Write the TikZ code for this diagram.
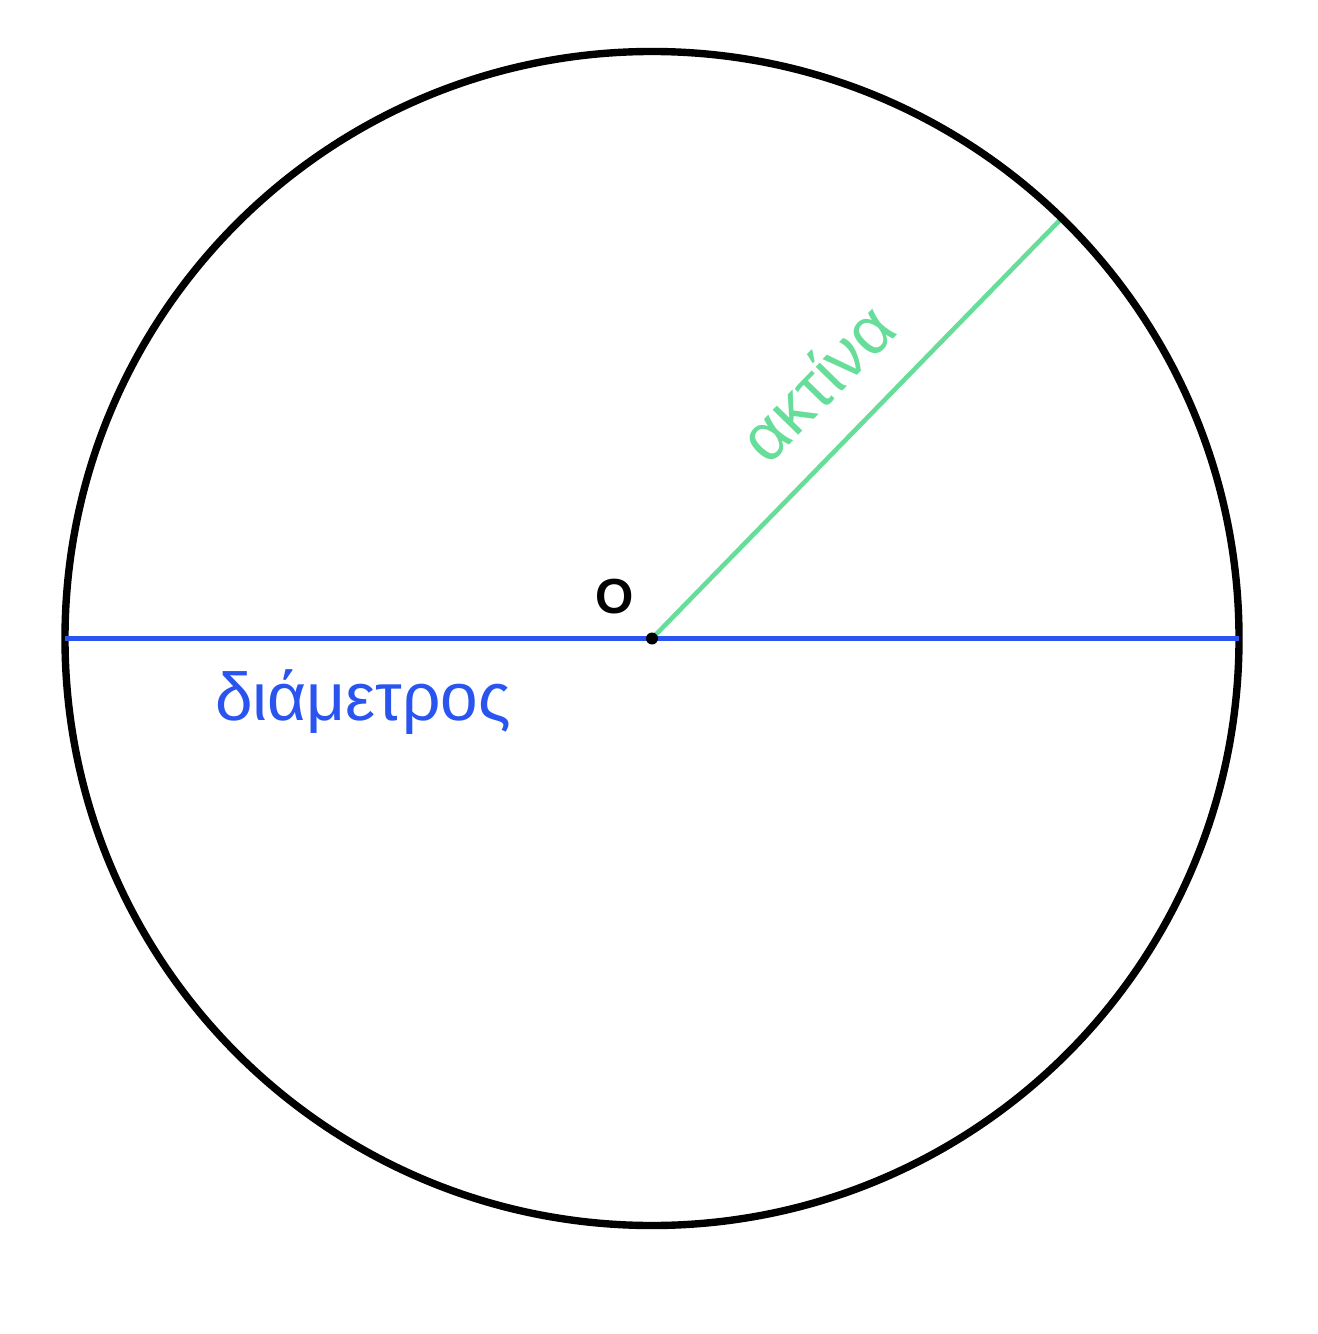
\documentclass[tikz,border=0pt]{standalone}
\usepackage{fontspec}
\setmainfont{Liberation Sans}
\usepackage{tikz}
\usetikzlibrary{positioning}
\definecolor{diamblue}{RGB}{41,84,240}
\definecolor{radgreen}{RGB}{102,221,153}
\tikzset{rim/.style={draw=black,line width=2.1pt}}
\tikzset{diam/.style={draw=diamblue,line width=1.5pt}}
\tikzset{rad/.style={draw=radgreen,line width=1.3pt}}
\tikzset{lbl/.style={font=\fontsize{19.2}{22}\selectfont}}

\begin{document}
\begin{tikzpicture}[x=0.01cm,y=-0.01cm]
                    \useasboundingbox (0,0) rectangle (1317,1334);
                    \coordinate (o) at (652,638.5);
                    \coordinate (w) at (65,638.5);
                    \coordinate (e) at (1239,638.5);
                    \coordinate (r) at (1060,220);
                    \draw[rad] (o) -- (r);
                    \draw[rim] (o) circle (587);
                    \draw[diam] (w) -- (e);
                    \fill (o) circle (6);
                    \node[font=\fontsize{14}{16}\selectfont\bfseries] (ol) at (615,597) {O};
                    \node[lbl,anchor=base,text=diamblue] (dl) at (363,720) {διάμετρος};
                    \node[lbl,rotate=45.7,text=radgreen] (rl) at (816,382) {ακτίνα};
                \end{tikzpicture}
\end{document}
